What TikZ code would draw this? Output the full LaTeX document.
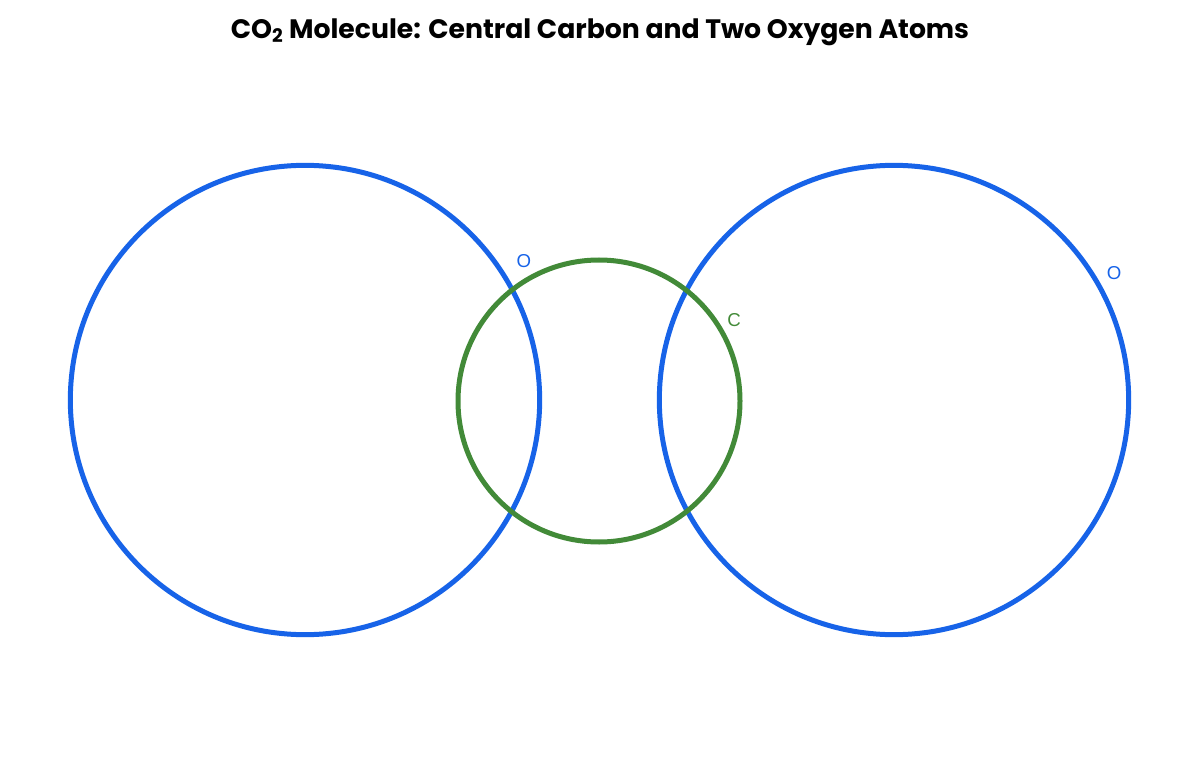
\documentclass[tikz,border=0pt]{standalone}
\usepackage{fontspec}
\setmainfont{Poppins}
\newfontfamily\labelfont{Liberation Sans}
\definecolor{oxyblue}{HTML}{1763E8}
\definecolor{carbgreen}{HTML}{428A38}
\tikzset{
  atom/.style={circle, draw, line width=3.75pt, inner sep=0pt},
  atomlabel/.style={font=\labelfont\fontsize{14}{16}\selectfont, inner sep=0pt}
}
\begin{document}
\begin{tikzpicture}[x=0.75pt, y=-0.75pt]
  %%%%% frame %%%%%
  \useasboundingbox (0, 0) rectangle (1200, 763);

  %%%%% title %%%%%
  \node[font=\fontsize{20}{24}\selectfont\bfseries] (title) at (600, 32) {CO\textsubscript{2} Molecule: Central Carbon and Two Oxygen Atoms};

  %%%%% atoms %%%%%
  \node[atom, draw=oxyblue, minimum size=352pt] (oxleft) at (305, 400) {};
  \node[atom, draw=oxyblue, minimum size=352pt] (oxright) at (894, 400) {};
  \node[atom, draw=carbgreen, minimum size=211.5pt] (carbon) at (599, 401) {};

  %%%%% labels %%%%%
  \node[atomlabel, text=oxyblue] (oxleftlabel) at (524, 261) {O};
  \node[atomlabel, text=carbgreen] (carbonlabel) at (734, 320) {C};
  \node[atomlabel, text=oxyblue] (oxrightlabel) at (1114, 273) {O};
\end{tikzpicture}
\end{document}
